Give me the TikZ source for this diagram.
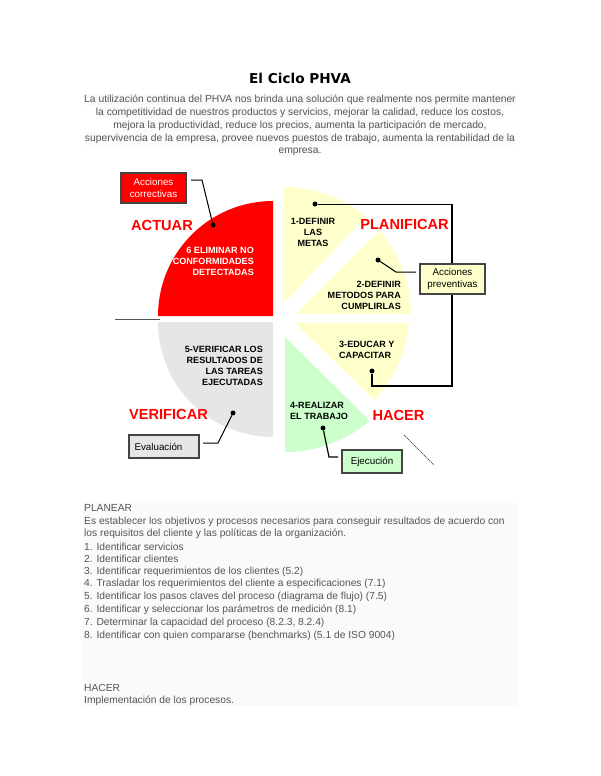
\documentclass[tikz,border=0pt]{standalone}
\usepackage{fontspec}
\setmainfont{Liberation Sans}
\newfontfamily\titlefont{DejaVu Sans}
\definecolor{pyellow}{HTML}{FFFFCC}
\definecolor{pgreen}{HTML}{CCFFCC}
\definecolor{pgrey}{HTML}{E6E6E6}
\definecolor{pred}{HTML}{FF0000}
\definecolor{bodygrey}{HTML}{555555}
\definecolor{panel}{HTML}{FAFAFA}
\definecolor{boxedge}{HTML}{444444}
\tikzset{
  body/.style={inner sep=0pt,text=bodygrey,font=\fontsize{10.25}{12}\selectfont},
  introline/.style={inner sep=0pt,text=bodygrey,font=\fontsize{10.3}{12}\selectfont,fill=panel,inner ysep=1.5pt},
  phase/.style={inner sep=0pt,text=pred,font=\fontsize{14.6}{16}\selectfont\bfseries},
  inner/.style={inner sep=0pt,font=\fontsize{9.05}{11}\selectfont\bfseries},
  callout/.style={draw=boxedge,line width=1.1pt,inner sep=0pt,align=center,font=\fontsize{9.8}{11.5}\selectfont},
  dotm/.style={circle,fill=black,inner sep=0pt,minimum size=5pt},
  conn/.style={draw=black,line width=1pt},
  thickconn/.style={draw=black,line width=1.5pt}
}
\begin{document}
\begin{tikzpicture}[x=1pt,y=-1pt]
\useasboundingbox (0,0) rectangle (600,776);
\fill[white] (0,0) rectangle (600,776);
% title and intro
\node[inner sep=0pt,font=\titlefont\fontsize{13.6}{15}\selectfont\bfseries] (title) at (300,78) {El Ciclo PHVA};
\node[introline] (i1) at (300,100) {La utilización continua del PHVA nos brinda una solución que realmente nos permite mantener};
\node[introline] (i2) at (300,113) {la competitividad de nuestros productos y servicios, mejorar la calidad, reduce los costos,};
\node[introline] (i3) at (300,126) {mejora la productividad, reduce los precios, aumenta la participación de mercado,};
\node[introline] (i4) at (300,139) {supervivencia de la empresa, provee nuevos puestos de trabajo, aumenta la rentabilidad de la};
\node[introline] (i5) at (300,152) {empresa.};
% wedges
\fill[pred] (273,316) -- plot[domain=180:90,samples=50] ({273+115*cos(\x)},{316-115*sin(\x)}) -- cycle;
\fill[pgrey] (273,322) -- plot[domain=180:270,samples=50] ({273+115*cos(\x)},{322-115*sin(\x)}) -- cycle;
\fill[pyellow] (284,303) -- (284,187) -- plot[domain=90:50,samples=40] ({284+127*cos(\x)},{314-127*sin(\x)}) -- cycle;
\fill[pyellow] (296,314) -- (377,233) -- plot[domain=43:0,samples=40] ({285+126*cos(\x)},{314-126*sin(\x)}) -- cycle;
\fill[pyellow] (295,323) -- (409,323) -- plot[domain=-4:-44,samples=40] ({285+124*cos(\x)},{314-124*sin(\x)}) -- cycle;
\fill[pgreen] (285,337) -- (366,417) -- plot[domain=-50:-90,samples=40] ({285+130*cos(\x)},{322-130*sin(\x)}) -- cycle;
% stray rules
\coordinate (r1) at (115,319.5);
\coordinate (r2) at (160,319.5);
\draw[draw=bodygrey,line width=1pt] (r1) -- (r2);
\coordinate (s1) at (404,435);
\coordinate (s2) at (434,465);
\draw[draw=bodygrey,line width=0.8pt,dash pattern=on 1.2pt off 0.8pt] (s1) -- (s2);
% phase labels
\node[phase] (actuar) at (162,225) {ACTUAR};
\node[phase] (planificar) at (404.5,224) {PLANIFICAR};
\node[phase] (verificar) at (168.5,414) {VERIFICAR};
\node[phase] (hacer) at (398.5,415) {HACER};
% wedge labels
\node[inner,text=white,align=right,anchor=east] (t6) at (254,261) {6 ELIMINAR NO\\CONFORMIDADES\\DETECTADAS};
\node[inner,align=center] (t1) at (313,232) {1-DEFINIR\\LAS\\METAS};
\node[inner,align=right,anchor=east] (t2) at (401,295.5) {2-DEFINIR\\METODOS PARA\\CUMPLIRLAS};
\node[inner,align=left,anchor=west] (t3) at (339,350) {3-EDUCAR Y\\CAPACITAR};
\node[inner,align=left,anchor=west] (t4) at (290,410.5) {4-REALIZAR\\EL TRABAJO};
\node[inner,align=right,anchor=east] (t5) at (263,365.5) {5-VERIFICAR LOS\\RESULTADOS DE\\LAS TAREAS\\EJECUTADAS};
% dots
\node[dotm] (d6) at (213,225) {};
\node[dotm] (d1) at (315,204) {};
\node[dotm] (d2) at (378,260) {};
\node[dotm] (d3) at (372,371) {};
\node[dotm] (d4) at (323,428) {};
\node[dotm] (d5) at (233,413) {};
% connectors
\coordinate (a1) at (191,180);
\coordinate (a2) at (202,180);
\draw[conn] (a1) -- (a2) -- (d6);
\coordinate (l1) at (452,204);
\coordinate (l2) at (452,386);
\coordinate (l3) at (372,386);
\draw[conn] (d1) -- (l1);
\draw[thickconn,line join=miter] (l1) -- (l2) -- (l3) -- (d3);
\coordinate (p1) at (416,272);
\coordinate (p2) at (396,272);
\draw[conn] (p1) -- (p2) -- (d2);
\coordinate (e1) at (203,443);
\coordinate (e2) at (218,443);
\draw[conn] (e1) -- (e2) -- (d5);
\coordinate (x1) at (338,457);
\coordinate (x2) at (329,457);
\draw[conn,line width=1.2pt] (x1) -- (x2) -- (d4);
% callouts
\node[callout,fill=pred,text=white,minimum width=65pt,minimum height=30pt] (acor) at (153.5,188) {Acciones\\correctivas};
\node[callout,fill=pyellow,minimum width=65pt,minimum height=30pt] (apre) at (452.5,279) {Acciones\\preventivas};
\node[callout,fill=pgrey,minimum width=70pt,minimum height=23pt,align=left,text width=59pt] (eval) at (164,446.5) {Evaluación};
\node[callout,fill=pgreen,minimum width=60pt,minimum height=23pt] (ejec) at (372,461.5) {Ejecución};
% bottom panel
\fill[panel] (83,503) rectangle (517,706);
\node[body,anchor=west] (b1) at (84,508) {PLANEAR};
\node[body,anchor=west] (b2) at (84,522) {Es establecer los objetivos y procesos necesarios para conseguir resultados de acuerdo con};
\node[body,anchor=west] (b3) at (84,534) {los requisitos del cliente y las políticas de la organización.};
\node[body,anchor=west] (b4) at (84,547) {1. Identificar servicios};
\node[body,anchor=west] (b5) at (84,559) {2. Identificar clientes};
\node[body,anchor=west] (b6) at (84,572) {3. Identificar requerimientos de los clientes (5.2)};
\node[body,anchor=west] (b7) at (84,584) {4. Trasladar los requerimientos del cliente a especificaciones (7.1)};
\node[body,anchor=west] (b8) at (84,597) {5. Identificar los pasos claves del proceso (diagrama de flujo) (7.5)};
\node[body,anchor=west] (b9) at (84,610) {6. Identificar y seleccionar los parámetros de medición (8.1)};
\node[body,anchor=west] (b10) at (84,623) {7. Determinar la capacidad del proceso (8.2.3, 8.2.4)};
\node[body,anchor=west] (b11) at (84,636) {8. Identificar con quien compararse (benchmarks) (5.1 de ISO 9004)};
\node[body,anchor=west] (b12) at (84,688) {HACER};
\node[body,anchor=west] (b13) at (84,701) {Implementación de los procesos.};
\end{tikzpicture}
\end{document}
